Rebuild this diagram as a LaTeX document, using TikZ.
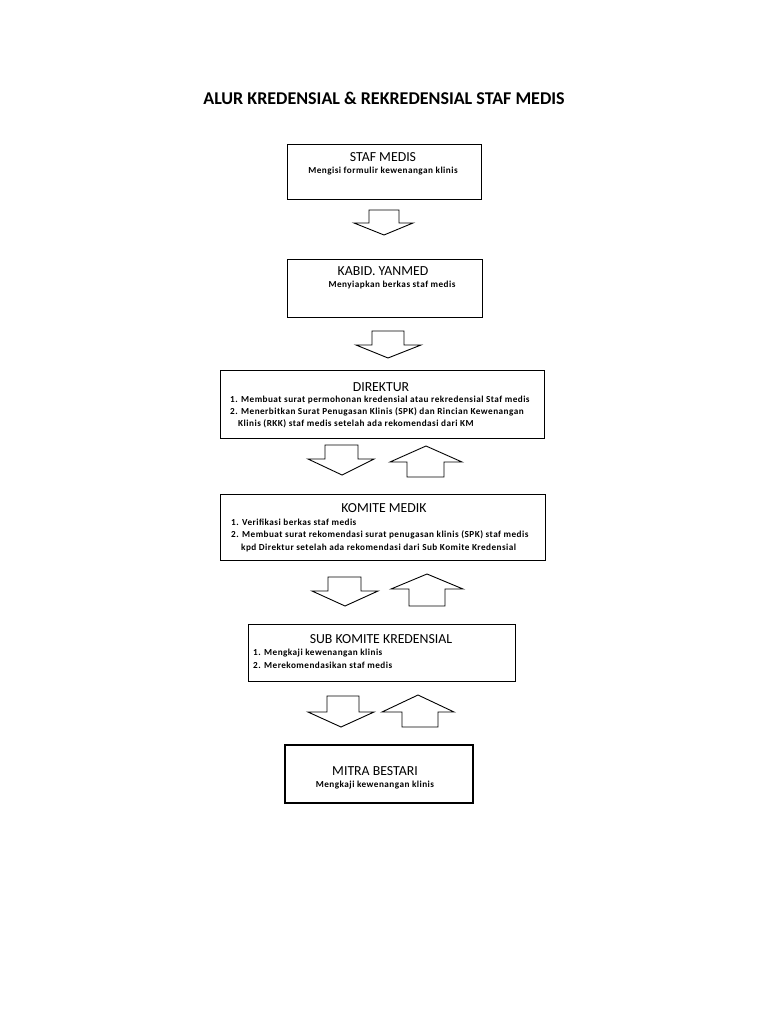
\documentclass[tikz,border=0pt]{standalone}
\usepackage{fontspec}
\setmainfont{Carlito}
\newfontfamily\smallfont[LetterSpace=5]{Carlito}
\begin{document}
\begin{tikzpicture}[x=1pt,y=-1pt,
  box/.style={draw, line width=0.8pt, inner sep=0pt},
  ttl/.style={font=\fontsize{13.8}{14}\selectfont, inner sep=0pt},
  sub/.style={font=\smallfont\bfseries\fontsize{9.2}{9.5}\selectfont, inner sep=0pt},
  itm/.style={font=\smallfont\bfseries\fontsize{9.2}{9.5}\selectfont, inner sep=0pt, anchor=west},
  blk/.style={draw, line width=0.9pt, fill=white, line join=miter}]
\useasboundingbox (0,0) rectangle (768,1024);
\fill[white] (0,0) rectangle (768,1024);

\node[font=\bfseries\fontsize{18}{18}\selectfont, inner sep=0pt] (title) at (384,98) {ALUR KREDENSIAL \& REKREDENSIAL STAF MEDIS};

% boxes
\node[box, minimum width=194pt, minimum height=55pt] (b1) at (384,171.5) {};
\node[box, minimum width=195pt, minimum height=58pt] (b2) at (384.5,288) {};
\node[box, minimum width=324pt, minimum height=68pt] (b3) at (382,404) {};
\node[box, minimum width=325pt, minimum height=66pt] (b4) at (382.5,527) {};
\node[box, minimum width=267pt, minimum height=57pt] (b5) at (381.5,652.5) {};
\node[box, line width=1.6pt, minimum width=188pt, minimum height=58pt] (b6) at (379,774) {};

% texts
\node[ttl] (t1) at (383,157) {STAF MEDIS};
\node[sub] (s1) at (383,171) {Mengisi formulir kewenangan klinis};

\node[ttl] (t2) at (383,271) {KABID. YANMED};
\node[sub] (s2) at (392,285) {Menyiapkan berkas staf medis};

\node[ttl] (t3) at (381,387) {DIREKTUR};
\node[itm] (d1) at (230,400) {1. Membuat surat permohonan kredensial atau rekredensial Staf medis};
\node[itm] (d2) at (230,412) {2. Menerbitkan Surat Penugasan Klinis (SPK) dan Rincian Kewenangan};
\node[itm] (d3) at (238,424) {Klinis (RKK) staf medis setelah ada rekomendasi dari KM};

\node[ttl] (t4) at (384,508) {KOMITE MEDIK};
\node[itm] (k1) at (231,522) {1. Verifikasi berkas staf medis};
\node[itm] (k2) at (231,535) {2. Membuat surat rekomendasi surat penugasan klinis (SPK) staf medis};
\node[itm] (k3) at (241,548) {kpd Direktur setelah ada rekomendasi dari Sub Komite Kredensial};

\node[ttl] (t5) at (381,639) {SUB KOMITE KREDENSIAL};
\node[itm] (u1) at (253,653) {1. Mengkaji kewenangan klinis};
\node[itm] (u2) at (253,665) {2. Merekomendasikan staf medis};

\node[ttl] (t6) at (375,771) {MITRA BESTARI};
\node[sub] (s6) at (375,785) {Mengkaji kewenangan klinis};

% block arrows
\draw[blk] (369,210) -- (399,210) -- (399,223) -- (413,223) -- (384,235) -- (354,223) -- (369,223) -- cycle;
\draw[blk] (372,331) -- (404,331) -- (404,345) -- (421,345) -- (388,358) -- (356,345) -- (372,345) -- cycle;

\draw[blk] (325,445) -- (358,445) -- (358,459) -- (374,459) -- (342,475) -- (308,459) -- (325,459) -- cycle;
\draw[blk] (407,477) -- (444,477) -- (444,462) -- (462,462) -- (426,446) -- (390,462) -- (407,462) -- cycle;

\draw[blk] (328,577) -- (361,577) -- (361,591) -- (378,591) -- (345,606) -- (312,591) -- (328,591) -- cycle;
\draw[blk] (409,606) -- (445,606) -- (445,589) -- (463,589) -- (427,574) -- (391,589) -- (409,589) -- cycle;

\draw[blk] (327,696) -- (359,696) -- (359,712) -- (374,712) -- (341,727) -- (308,712) -- (327,712) -- cycle;
\draw[blk] (402,727) -- (438,727) -- (438,712) -- (454,712) -- (418,695) -- (382,712) -- (402,712) -- cycle;
\end{tikzpicture}
\end{document}
